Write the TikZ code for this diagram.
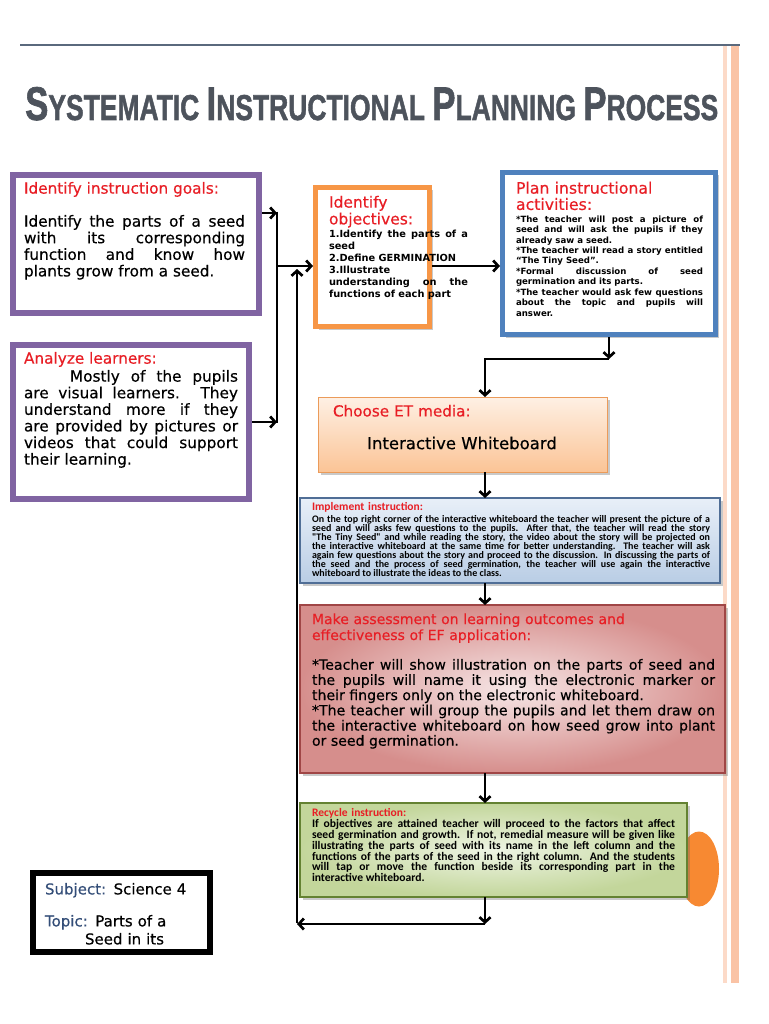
\documentclass[tikz,border=0pt]{standalone}
\usepackage{fontspec}
\usepackage{graphicx}
\setmainfont{DejaVu Sans}[UprightFeatures={FakeBold=0.4}]
\newfontfamily\carl{Carlito}
\newfontfamily\titlefont{Liberation Sans}[BoldFeatures={FakeBold=1.6}]
\usetikzlibrary{arrows.meta,shadows,shapes.geometric}
\definecolor{tred}{RGB}{232,30,37}
\definecolor{bpurple}{RGB}{128,100,162}
\definecolor{borange}{RGB}{247,150,70}
\definecolor{bblue}{RGB}{79,129,189}
\definecolor{subjblue}{RGB}{52,78,120}
\definecolor{titlegray}{RGB}{77,83,92}
\definecolor{topline}{RGB}{90,105,125}
\definecolor{peachA}{RGB}{252,218,200}
\definecolor{peachB}{RGB}{250,195,165}
\definecolor{ellcol}{RGB}{247,137,50}
\definecolor{mediaT}{RGB}{254,240,228}
\definecolor{mediaB}{RGB}{251,196,150}
\definecolor{mediaD}{RGB}{235,155,90}
\definecolor{implT}{RGB}{232,239,248}
\definecolor{implB}{RGB}{185,205,229}
\definecolor{implD}{RGB}{80,110,150}
\definecolor{assI}{RGB}{246,230,230}
\definecolor{assO}{RGB}{214,142,140}
\definecolor{assD}{RGB}{160,70,70}
\definecolor{recI}{RGB}{238,245,228}
\definecolor{recO}{RGB}{195,214,155}
\definecolor{recD}{RGB}{100,130,50}
\newcommand\myfs[2]{\fontsize{#1}{#2}\selectfont\lineskiplimit=-100pt\relax}
\newcommand\bigc[1]{{\fontsize{40}{40}\selectfont #1}}
\tolerance=10000
\pretolerance=-1
\hyphenpenalty=10000
\hbadness=10000
\begin{document}
\begin{tikzpicture}[x=1pt,y=-1pt,
  box/.style={anchor=north west, inner sep=0pt, outer sep=0pt},
  txt/.style={anchor=north west, inner sep=0pt, outer sep=0pt, align=justify},
  conn/.style={line width=2.7pt, draw=black, -{Straight Barb[length=5pt,width=11pt]}},
  wire/.style={line width=2.7pt, draw=black},
  shad/.style={drop shadow={shadow xshift=3pt,shadow yshift=-3pt,opacity=0.35,fill=black!60}},
  redtitle/.style={text=tred},
]
\useasboundingbox (0,0) rectangle (768,1024);
\fill[white] (0,0) rectangle (768,1024);

% page decorations
\draw[topline, line width=2pt] (20,45) -- (740,45);
\fill[peachA] (723,46) rectangle (727,983);
\fill[peachB] (731,46) rectangle (739,983);

% title
\node[anchor=base west, inner sep=0pt, text=titlegray] (title) at (25,120)
  {\resizebox{693pt}{33pt}{\titlefont\bfseries\fontsize{30.4}{30.4}\selectfont
   \bigc{S}YSTEMATIC \bigc{I}NSTRUCTIONAL \bigc{P}LANNING \bigc{P}ROCESS}};

% orange dot
\node[ellipse, fill=ellcol, minimum width=40pt, minimum height=75pt, inner sep=0pt] (dot) at (699,869) {};

% boxes
\node[box, draw=bpurple, line width=6pt, fill=white, shad, minimum width=246pt, minimum height=138pt] (goal) at (13,175) {};
\node[box, draw=bpurple, line width=6pt, fill=white, shad, minimum width=236pt, minimum height=154pt] (learn) at (13,345) {};
\node[box, draw=borange, line width=5pt, fill=white, shad, minimum width=114pt, minimum height=139pt] (obj) at (315.5,187.5) {};
\node[box, draw=bblue, line width=5pt, fill=white, shad, minimum width=213pt, minimum height=162pt] (plan) at (502.5,172.5) {};
\node[box, draw=mediaD, line width=0.8pt, top color=mediaT, bottom color=mediaB, shad, minimum width=289pt, minimum height=75pt] (media) at (318,397) {};
\node[box, draw=implD, line width=1.2pt, top color=implT, bottom color=implB, shad, minimum width=420pt, minimum height=85pt] (impl) at (300,498) {};
\node[box, draw=assD, line width=1.2pt, inner color=assI, outer color=assO, shad, minimum width=425pt, minimum height=168pt] (ass) at (300,605) {};
\node[box, draw=recD, line width=1.5pt, inner color=recI, outer color=recO, shad, minimum width=387pt, minimum height=94pt] (rec) at (300,803) {};
\node[box, draw=black, line width=5.5pt, fill=white, shad, minimum width=177pt, minimum height=79pt] (subj) at (33,873) {};

% texts
\node[txt, redtitle, text width=230pt, font=\myfs{15.3}{16.6}] (goalT) at (24,182) {Identify instruction goals:};
\node[txt, text width=221pt, font=\myfs{15.3}{16.6}] (goalB) at (24,215)
  {Identify the parts of a seed\linebreak with its corresponding\linebreak function and know how\linebreak plants grow from a seed.};

\node[txt, redtitle, text width=220pt, font=\myfs{15.3}{16.6}] (learnT) at (24,352) {Analyze learners:};
\node[txt, text width=214pt, font=\myfs{15.3}{16.6}] (learnB) at (24,370)
  {\hspace*{46pt}Mostly of the pupils\linebreak are visual learners. They\linebreak understand more if they\linebreak are provided by pictures or\linebreak videos that could support\linebreak their learning.};

\node[txt, redtitle, text width=120pt, align=left, font=\myfs{15.5}{16.8}] (objT) at (329,195.8) {Identify\\objectives:};
\node[txt, text width=139pt, font=\myfs{9.8}{12}\bfseries] (objB) at (329,230.1)
  {1.Identify the parts of a\linebreak seed\par 2.Define GERMINATION\par 3.Illustrate\\ understanding on the\linebreak functions of each part};

\node[txt, redtitle, text width=190pt, align=left, font=\myfs{15.7}{16.3}] (planT) at (516,181.7) {Plan instructional\\activities:};
\node[txt, text width=187pt, font=\myfs{8.6}{10.45}\bfseries] (planB) at (516,215.6)
  {*The teacher will post a picture of\linebreak seed and will ask the pupils if they\linebreak already saw a seed.\par
   *The teacher will read a story entitled\linebreak “The Tiny Seed”.\par
   *Formal discussion of seed\linebreak germination and its parts.\par
   *The teacher would ask few questions\linebreak about the topic and pupils will\linebreak answer.};

\node[txt, redtitle, text width=200pt, align=left, font=\myfs{15.2}{16}] (mediaT) at (333,404.9) {Choose ET media:};
\node[inner sep=0pt, font=\myfs{16.5}{18}] (mediaB) at (462,443) {Interactive Whiteboard};

\node[txt, redtitle, text width=200pt, align=left, font=\carl\myfs{11.5}{12}\bfseries] (implT) at (312,502.5) {Implement instruction:};
\node[txt, text width=398pt, font=\carl\myfs{10}{8.9}\bfseries] (implB) at (312,515.6)
  {On the top right corner of the interactive whiteboard the teacher will present the picture of a\linebreak
   seed and will asks few questions to the pupils. After that, the teacher will read the story\linebreak
   "The Tiny Seed" and while reading the story, the video about the story will be projected on\linebreak
   the interactive whiteboard at the same time for better understanding. The teacher will ask\linebreak
   again few questions about the story and proceed to the discussion. In discussing the parts of\linebreak
   the seed and the process of seed germination, the teacher will use again the interactive\linebreak
   whiteboard to illustrate the ideas to the class.};

\node[txt, redtitle, text width=400pt, align=left, font=\myfs{14}{16}] (assT) at (312,613.4)
  {Make assessment on learning outcomes and\\effectiveness of EF application:};
\node[txt, text width=403pt, font=\myfs{14.1}{15.2}] (assB) at (312,659)
  {*Teacher will show illustration on the parts of seed and\linebreak the pupils will name it using the electronic marker or\linebreak their fingers only on the electronic whiteboard.\par
   *The teacher will group the pupils and let them draw on\linebreak the interactive whiteboard on how seed grow into plant\linebreak or seed germination.};

\node[txt, redtitle, text width=200pt, align=left, font=\carl\myfs{11.5}{12}\bfseries] (recT) at (312,808.5) {Recycle instruction:};
\node[txt, text width=363pt, font=\carl\myfs{11.6}{10.8}\bfseries] (recB) at (312,819.5)
  {If objectives are attained teacher will proceed to the factors that affect\linebreak
   seed germination and growth. If not, remedial measure will be given like\linebreak
   illustrating the parts of seed with its name in the left column and the\linebreak
   functions of the parts of the seed in the right column. And the students\linebreak
   will tap or move the function beside its corresponding part in the\linebreak
   interactive whiteboard.};

\node[txt, align=left, text width=170pt, font=\myfs{15}{18}] (subjT) at (45,883)
  {\textcolor{subjblue}{Subject:} Science 4};
\node[txt, align=left, text width=170pt, font=\myfs{15}{18}] (topicT) at (45,915)
  {\textcolor{subjblue}{Topic:} Parts of a\\\hspace*{40pt}Seed in its};

% connectors
\coordinate (jtop) at (277,213);
\coordinate (jbot) at (277,422);
\coordinate (jmid) at (277,266);
\coordinate (pj) at (609,359);
\coordinate (lj1) at (485,924);
\coordinate (lj2) at (297,924);
\coordinate (lj3) at (297,269);

\draw[conn] ([xshift=3pt,yshift=31pt]goal.east) -- (jtop);
\draw[conn] ([xshift=3pt]learn.east) -- (jbot);
\draw[wire] ([yshift=1.35pt]jtop) -- ([yshift=-1.35pt]jbot);
\draw[conn] (jmid) -- ([xshift=-2.5pt,yshift=-9pt]obj.west);
\draw[conn] ([xshift=2.5pt,yshift=-9pt]obj.east) -- ([xshift=-2.5pt,yshift=-12.5pt]plan.west);
\draw[conn] ([yshift=-2.5pt]plan.south) -- (pj);
\draw[conn] (pj) -| ([xshift=22.5pt]media.north);
\draw[conn] ([xshift=22.5pt]media.south) -- ([xshift=-25pt]impl.north);
\draw[conn] ([xshift=-25pt]impl.south) -- ([xshift=-27.5pt]ass.north);
\draw[conn] ([xshift=-27.5pt]ass.south) -- ([xshift=-8.5pt]rec.north);
\draw[conn] ([xshift=-8.5pt]rec.south) -- (lj1);
\draw[conn] (lj1) -- (lj2);
\draw[conn] ([yshift=1.35pt]lj2) -- (lj3);
\end{tikzpicture}
\end{document}
